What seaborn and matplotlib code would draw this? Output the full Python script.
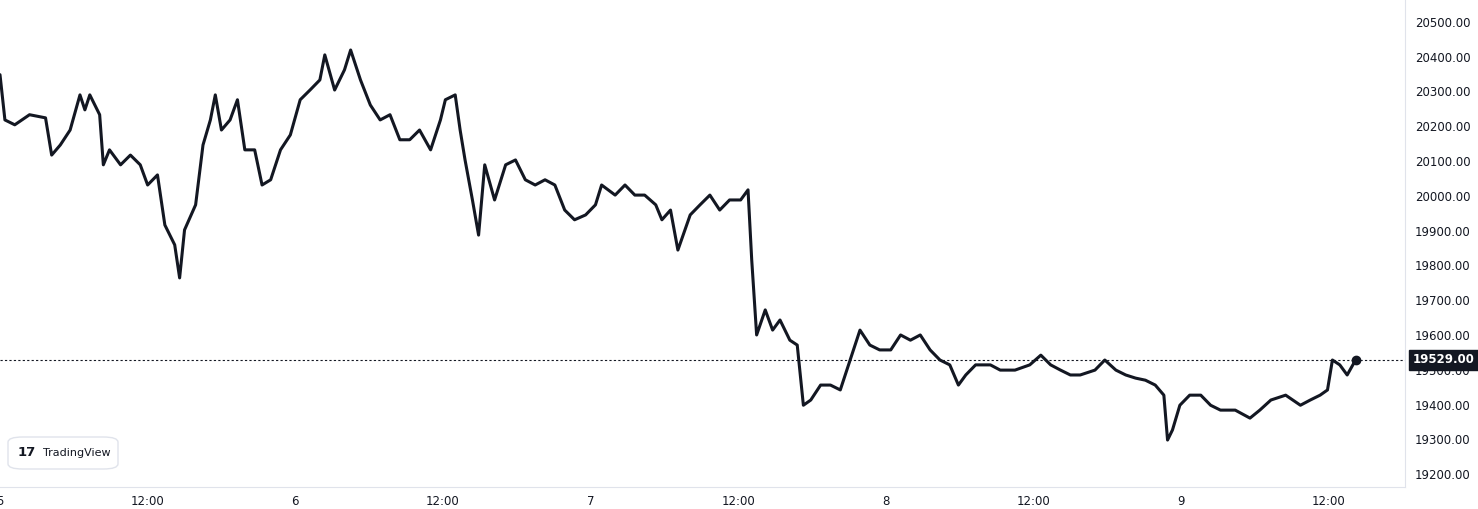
import matplotlib
matplotlib.use("Agg")
import matplotlib.pyplot as plt
import seaborn as sns
import pandas as pd
from matplotlib.patches import FancyBboxPatch

hours = [0,.4,1.2,2.4,3.7,4.2,4.9,5.7,6.5,6.9,7.3,8.1,8.4,8.9,9.8,10.6,11.4,12.0,12.8,13.4,14.2,14.6,15.0,15.9,16.5,17.1,17.5,18.0,18.7,19.3,19.9,20.7,21.3,22.0,22.8,23.6,24.4,25.2,26.0,26.4,27.2,28.0,28.5,29.3,30.1,30.9,31.7,32.5,33.3,34.1,35.0,35.8,36.2,37.0,37.4,37.8,38.4,38.9,39.4,40.2,41.1,41.9,42.7,43.5,44.3,45.1,45.9,46.7,47.6,48.4,48.9,50.0,50.8,51.6,52.4,53.3,53.8,54.5,55.1,56.1,56.9,57.7,58.5,59.3,60.2,60.8,61.1,61.5,62.2,62.8,63.4,64.2,64.8,65.3,65.9,66.7,67.5,68.3,69.1,69.9,70.7,71.5,72.4,73.2,74.0,74.8,75.6,76.4,77.2,77.9,78.5,79.3,80.5,81.3,82.5,83.7,84.6,85.4,86.2,87.0,87.8,89.0,89.8,90.7,91.5,92.3,93.1,93.9,94.6,94.9,95.3,95.9,96.7,97.6,98.4,99.2,100.4,101.6,102.4,103.3,104.5,105.7,106.5,107.3,107.9,108.3,108.9,109.5,110.2]
prices = [20348,20218,20204,20233,20224,20117,20146,20189,20290,20247,20290,20233,20089,20132,20089,20117,20089,20031,20060,19916,19859,19764,19902,19974,20146,20218,20290,20189,20218,20276,20132,20132,20031,20046,20132,20175,20276,20304,20333,20405,20304,20362,20419,20333,20261,20218,20233,20161,20161,20189,20132,20218,20276,20290,20189,20103,19988,19887,20089,19988,20089,20103,20046,20031,20046,20031,19959,19931,19945,19974,20031,20002,20031,20002,20002,19974,19931,19959,19844,19945,19974,20002,19959,19988,19988,20017,19816,19600,19672,19614,19643,19585,19571,19398,19413,19456,19456,19442,19528,19614,19571,19557,19557,19600,19585,19600,19557,19528,19514,19456,19485,19514,19514,19499,19499,19514,19542,19514,19499,19485,19485,19499,19528,19499,19485,19476,19470,19456,19427,19298,19327,19398,19427,19427,19398,19384,19384,19361,19384,19413,19427,19398,19413,19427,19442,19528,19514,19485,19529]
last_price = 19529.00
yticks = list(range(19200, 20501, 100))
xtick_pos = [0,12,24,36,48,60,72,84,96,108]
xtick_lab = ["5","12:00","6","12:00","7","12:00","8","12:00","9","12:00"]

df = pd.DataFrame({"h": hours, "p": prices})
sns.set_style("white")
fig = plt.figure(figsize=(14.78, 5.09), dpi=100)
ax = fig.add_axes([0, 0.0432, 1405/1478, 0.957])
sns.lineplot(data=df, x="h", y="p", ax=ax, color="#131722", linewidth=2.2)
ax.plot([hours[-1]], [prices[-1]], "o", color="#131722", ms=6)
ax.axhline(last_price, color="#131722", ls=(0, (2, 2)), lw=0.8)
ax.set_xlim(0, 114.2)
ax.set_ylim(19163, 20563)
ax.yaxis.tick_right()
ax.set_yticks(yticks)
ax.set_yticklabels([f"{v:.2f}" for v in yticks], fontsize=8.5, color="#131722")
ax.set_xticks(xtick_pos)
ax.set_xticklabels(xtick_lab, fontsize=8.5, color="#131722")
ax.tick_params(axis="y", length=0, pad=7)
ax.tick_params(axis="x", length=0, pad=6)
ax.set_xlabel(""); ax.set_ylabel("")
for s in ["top", "left"]:
    ax.spines[s].set_visible(False)
for s in ["right", "bottom"]:
    ax.spines[s].set_color("#e0e3eb")
ax.text(1.0055, last_price, f"{last_price:.2f}", transform=ax.get_yaxis_transform(),
        va="center", ha="left", fontsize=8.5, fontweight="bold", color="white",
        bbox=dict(boxstyle="square,pad=0.3", fc="#131722", ec="#131722"))
box = FancyBboxPatch((8/1478, 40/509), 110/1478, 32/509, boxstyle="round,pad=0,rounding_size=0.01",
                     transform=fig.transFigure, fc="white", ec="#e0e3eb", lw=1)
fig.patches.append(box)
fig.text(18/1478, 56/509, "17", fontsize=9.5, fontweight="bold", color="#131722", va="center")
fig.text(43/1478, 56/509, "TradingView", fontsize=8, color="#131722", va="center")
fig.savefig("out.png", dpi=100)
